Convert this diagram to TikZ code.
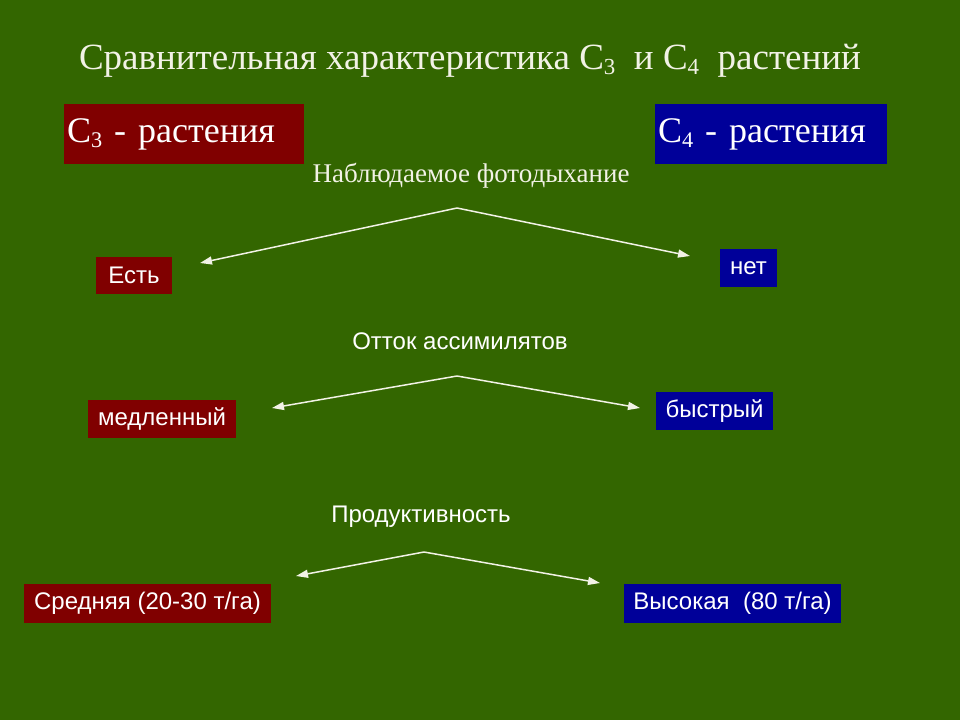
\documentclass[tikz,border=0pt]{standalone}
\usepackage{fontspec}
\setmainfont{Liberation Serif}
\setsansfont{Liberation Sans}
\usetikzlibrary{arrows.meta}
\definecolor{bg}{HTML}{336600}
\definecolor{rbox}{HTML}{800000}
\definecolor{bbox}{HTML}{000099}
\definecolor{ttl}{HTML}{F2F2E6}
\newcommand{\sbs}[1]{\raisebox{-0.3ex}{\fontsize{0.62em}{0.7em}\selectfont #1}}
\begin{document}
\begin{tikzpicture}[x=1pt,y=-1pt,
  boxr/.style={fill=rbox,text=white,inner sep=0pt,draw=none},
  boxb/.style={fill=bbox,text=white,inner sep=0pt,draw=none},
  lab/.style={text=white,font=\sffamily\fontsize{24}{28}\selectfont},
  arr/.style={draw=ttl,line width=1.5pt,-{Triangle[length=12pt,width=8pt]}}]
\fill[bg] (0,0) rectangle (960,720);
\useasboundingbox (0,0) rectangle (960,720);
\node[text=ttl,font=\fontsize{37}{42}\selectfont] (title) at (470,61) {Сравнительная характеристика С\sbs{3}\ \ и С\sbs{4}\ \ растений};
\node[boxr,minimum width=240pt,minimum height=60pt,text width=234pt,align=left,font=\fontsize{36}{40}\selectfont] (c3) at (184,134) {С\sbs{3} - растения};
\node[boxb,minimum width=232pt,minimum height=60pt,text width=226pt,align=left,font=\fontsize{36}{40}\selectfont] (c4) at (771,134) {С\sbs{4} - растения};
\node[text=ttl,font=\fontsize{27}{31}\selectfont] (h1) at (471,176) {Наблюдаемое фотодыхание};
\node[boxr,lab,minimum width=76pt,minimum height=37pt] (a1) at (134,275.5) {Есть};
\node[boxb,lab,minimum width=57pt,minimum height=38pt] (b1) at (748.5,268) {нет};
\node[lab] (h2) at (460,341) {Отток ассимилятов};
\node[boxr,lab,minimum width=148pt,minimum height=38pt] (a2) at (162,419) {медленный};
\node[boxb,lab,minimum width=117pt,minimum height=38pt] (b2) at (714.5,411) {быстрый};
\node[lab] (h3) at (421,517) {Продуктивность};
\node[boxr,lab,minimum width=247pt,minimum height=39pt] (a3) at (147.5,603.5) {Средняя (20-30 т/га)};
\node[boxb,lab,minimum width=217pt,minimum height=39pt] (b3) at (732.5,603.5) {Высокая\ \ (80 т/га)};
\coordinate (p1) at (457,208); \coordinate (l1) at (200,263); \coordinate (r1) at (690,256);
\coordinate (p2) at (457,376); \coordinate (l2) at (272,408); \coordinate (r2) at (640,408);
\coordinate (p3) at (424,552); \coordinate (l3) at (296,576); \coordinate (r3) at (600,583);
\foreach \i in {1,2,3}{\draw[arr] (p\i) -- (l\i); \draw[arr] (p\i) -- (r\i);}
\end{tikzpicture}
\end{document}
